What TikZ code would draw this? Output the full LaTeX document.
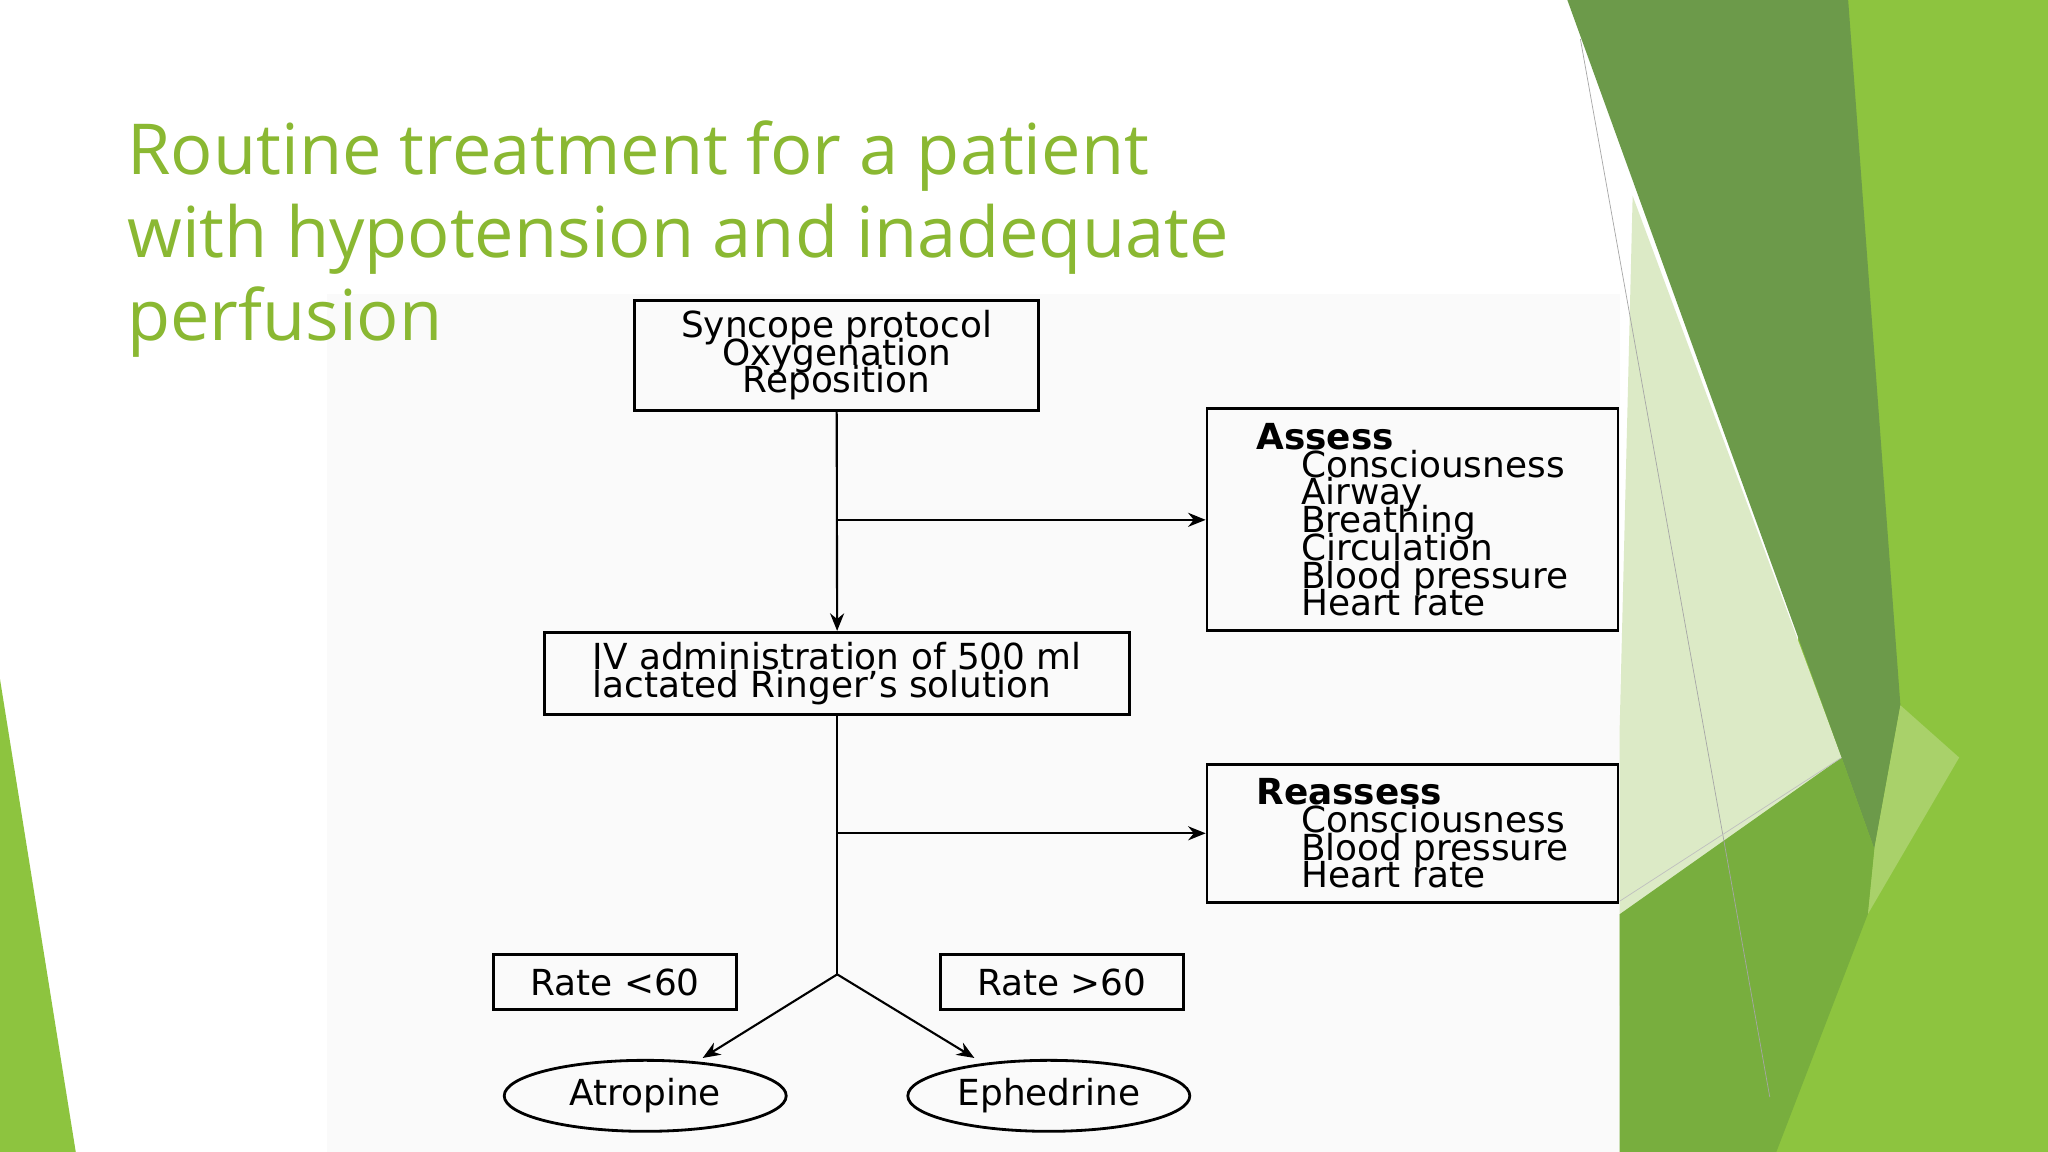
\documentclass[tikz,border=0pt]{standalone}
\usepackage{fontspec}
\setmainfont{DejaVu Sans}
\newfontfamily\titlefont{Open Sans}
\usetikzlibrary{shapes.geometric,arrows.meta}
\definecolor{titlegreen}{HTML}{8AB832}
\definecolor{leafdark}{HTML}{6C9A4A}
\definecolor{leafmid}{HTML}{78AE3E}
\definecolor{leafbright}{HTML}{8DC43F}
\definecolor{leafpale}{HTML}{DCEAC6}
\definecolor{leaflight}{HTML}{A9D16A}
\newcommand\flowfont{\fontsize{10.2}{7.9}\selectfont\lineskiplimit=-20pt\relax}
\begin{document}
\begin{tikzpicture}[x=0.013061cm,y=-0.013061cm,
every node/.style = {font=\flowfont,inner sep=0pt},
box_node/.style={draw,thick,rectangle},
oval_node/.style={draw,thick,ellipse,minimum width=2.82cm,minimum height=0.71cm},
>={Stealth[length=5pt,width=4pt]}]

  % background
  \useasboundingbox (0,0) rectangle (1568,882);
  \fill[white] (0,0) rectangle (1568,882);
  \fill[black!2] (250,225) rectangle (1240,882);
  \fill[leafbright] (1410,0) -- (1568,0) -- (1568,882) -- (1350,882) -- cycle;
  \fill[leafpale] (1250,150) -- (1410,580) -- (1240,770) -- (1240,560) -- cycle;
  \fill[leafdark] (1200,0) -- (1415,0) -- (1455,540) -- (1435,650) -- (1410,580) -- cycle;
  \fill[leaflight] (1455,540) -- (1500,580) -- (1430,700) -- (1435,650) -- cycle;
  \fill[leafmid] (1240,700) -- (1410,580) -- (1435,650) -- (1430,700) -- (1360,882) -- (1240,882) -- cycle;
  \fill[leafbright] (0,520) -- (58,882) -- (0,882) -- cycle;
  \draw[gray!70,very thin] (1210,30) -- (1355,840);
  \draw[gray!50,very thin] (1240,690) -- (1410,580);

  % title
  \node[anchor=north west,align=left,text=titlegreen,
    font=\titlefont\fontsize{20}{23.6}\selectfont] (title) at (97,92)
    {Routine treatment for a patient\\with hypotension and inadequate\\perfusion};

  % flowchart
  \node[box_node,minimum width=4.04cm,minimum height=1.10cm,align=center] (start) at (640.5,272)
    {Syncope protocol\\Oxygenation\\Reposition};
  \node[box_node,minimum width=4.11cm,minimum height=2.22cm,align=left] (assess) at (1081.5,398)
    {\textbf{Assess}\\\hspace*{1.25em}Consciousness\\\hspace*{1.25em}Airway\\\hspace*{1.25em}Breathing\\\hspace*{1.25em}Circulation\\\hspace*{1.25em}Blood pressure\\\hspace*{1.25em}Heart rate};
  \node[box_node,minimum width=5.85cm,minimum height=0.82cm,align=left] (iv) at (641,515.5)
    {IV administration of 500 ml\\lactated Ringer's solution};
  \node[box_node,minimum width=4.11cm,minimum height=1.38cm,align=left] (reassess) at (1081.5,638)
    {\textbf{Reassess}\\\hspace*{1.25em}Consciousness\\\hspace*{1.25em}Blood pressure\\\hspace*{1.25em}Heart rate};
  \node[box_node,minimum width=2.43cm,minimum height=0.55cm] (slow) at (471,752) {Rate <60};
  \node[box_node,minimum width=2.43cm,minimum height=0.55cm] (fast) at (813,752) {Rate >60};
  \node[oval_node] (atropine) at (494,839) {Atropine};
  \node[oval_node] (ephedrine) at (803,839) {Ephedrine};

  \coordinate (j1) at (640,398);
  \coordinate (j2) at (641,638);
  \coordinate (fork) at (641,746);

  \draw[->,semithick] (start) -- (iv);
  \draw[->,semithick] (j1) -- (j1 -| assess.west);
  \draw[semithick] (iv) -- (fork);
  \draw[->,semithick] (j2) -- (j2 -| reassess.west);
  \draw[->,semithick] (fork) -- (538,810);
  \draw[->,semithick] (fork) -- (746,810);

\end{tikzpicture}
\end{document}
